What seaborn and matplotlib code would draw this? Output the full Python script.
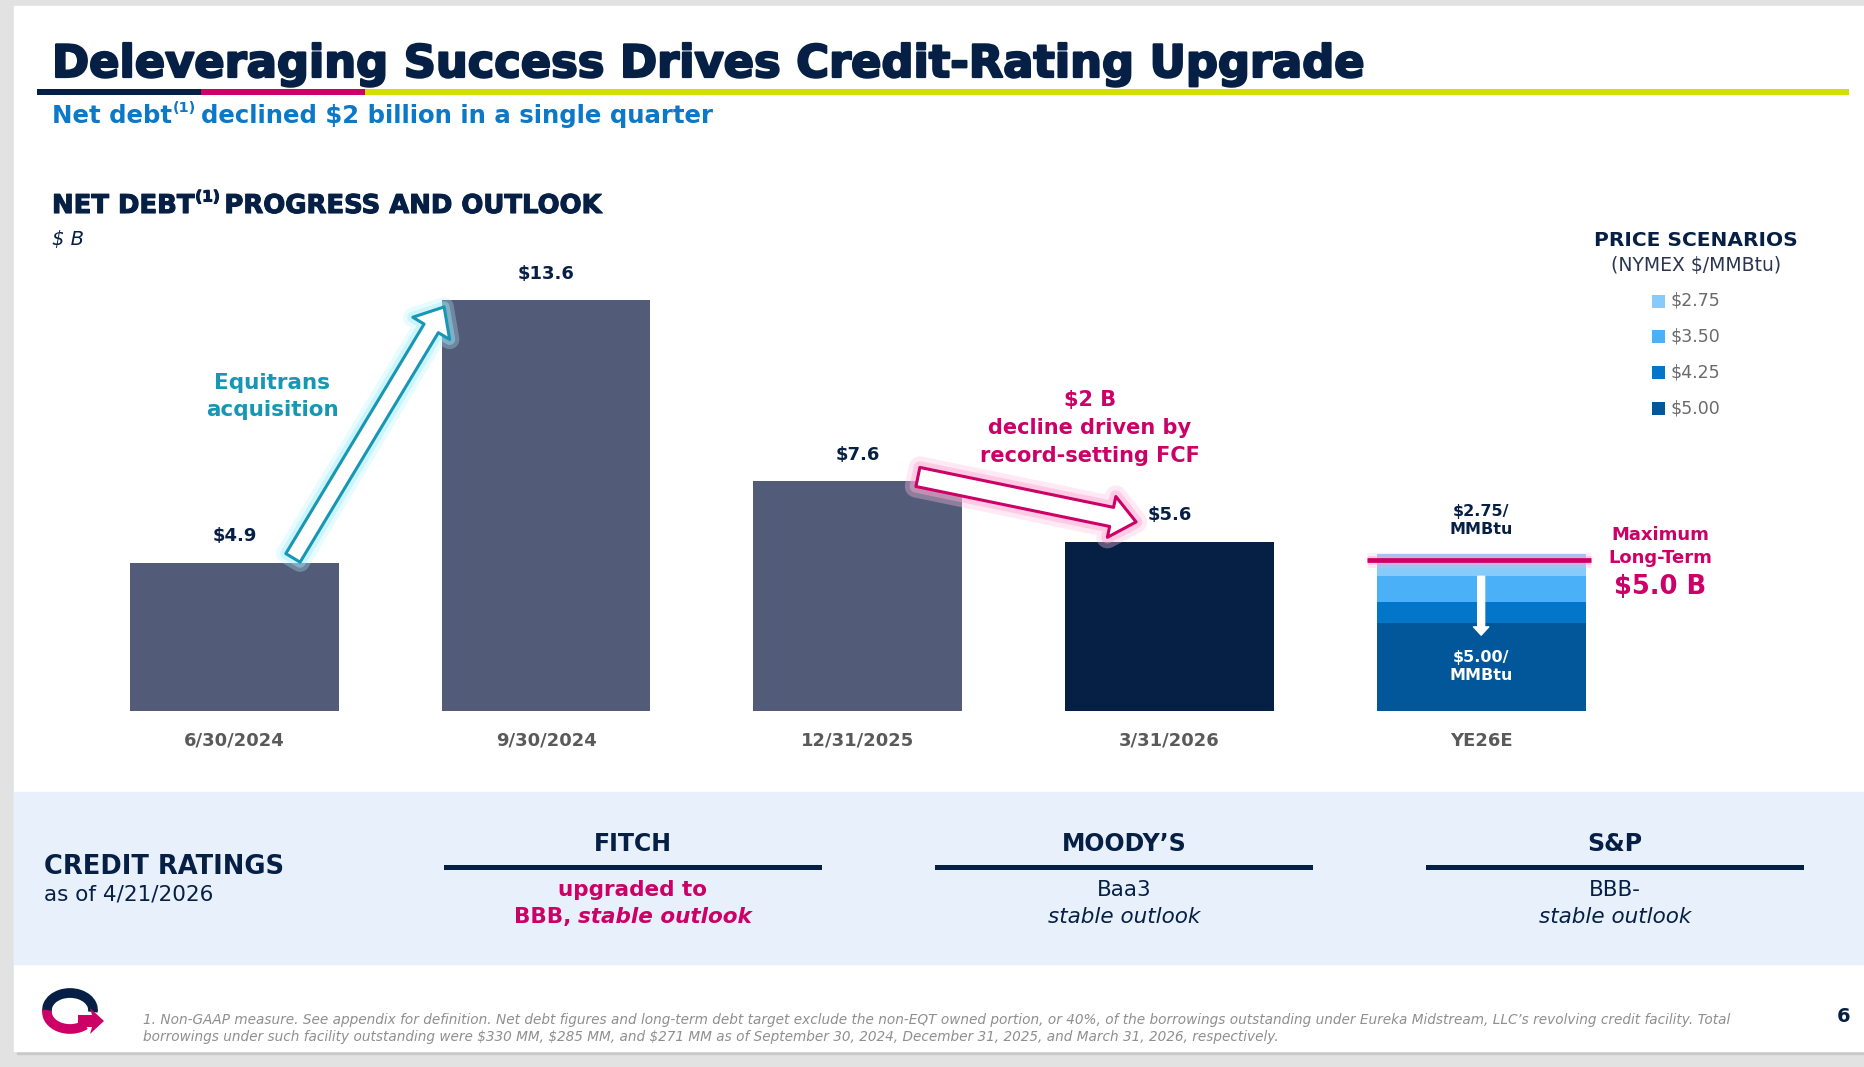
import matplotlib
matplotlib.use("Agg")
import matplotlib.pyplot as plt
import matplotlib.patheffects as pe
from matplotlib.patches import Rectangle, FancyArrowPatch, ArrowStyle, Arc, Polygon
import seaborn as sns
import pandas as pd

# ---------------- data ----------------
categories = ["6/30/2024", "9/30/2024", "12/31/2025", "3/31/2026", "YE26E"]
net_debt = [4.9, 13.6, 7.6, 5.6]
net_debt_status = ["history", "history", "history", "latest"]
value_labels = ["$4.9", "$13.6", "$7.6", "$5.6"]
scenario_labels = ["$2.75", "$3.50", "$4.25", "$5.00"]
scenario_debt = [5.2, 4.45, 3.6, 2.9]
long_term_max = 5.0
agencies = ["FITCH", "MOODY\u2019S", "S&P"]
rating_line1 = ["upgraded to", "Baa3", "BBB-"]
rating_line2 = ["stable outlook", "stable outlook", "stable outlook"]
footnote = [
    "1. Non-GAAP measure. See appendix for definition. Net debt figures and long-term debt target exclude the non-EQT owned portion, or 40%, of the borrowings outstanding under Eureka Midstream, LLC\u2019s revolving credit facility. Total",
    "borrowings under such facility outstanding were $330 MM, $285 MM, and $271 MM as of September 30, 2024, December 31, 2025, and March 31, 2026, respectively.",
]

# ---------------- style ----------------
NAVY = "#061f45"
SLATE = "#525b78"
MAGENTA = "#cc0066"
TEAL = "#1797b4"
BLUE = "#0b78c8"
YELLOW = "#d3df00"
BAND = "#e8f1fb"
GRAY = "#5a5a5a"
scenario_colors = ["#86cbf9", "#4ab0f7", "#0376c9", "#02569a"]

sns.set_theme(style="white")
plt.rcParams["font.family"] = ["DejaVu Sans"]

W, H = 1865, 1067
PX = 100 / 72.0
fig = plt.figure(figsize=(W / 100, H / 100), dpi=100)
fig.patch.set_facecolor("#e2e2e2")
R = fig.canvas.get_renderer()

bg = fig.add_axes([0, 0, 1, 1], zorder=0)
bg.set_xlim(0, W); bg.set_ylim(H, 0); bg.axis("off")
ov = fig.add_axes([0, 0, 1, 1], zorder=3)
ov.set_xlim(0, W); ov.set_ylim(H, 0); ov.axis("off"); ov.patch.set_alpha(0)

# slide
bg.add_patch(Rectangle((17, 9), W, 1045, color="#c9c9c9", zorder=0))
bg.add_patch(Rectangle((14, 6), W, 1045, color="white", zorder=1))
bg.add_patch(Rectangle((14, 792), W, 172, color=BAND, zorder=2))


def measure(ax, s, **kw):
    t = ax.text(0, 0, s, **kw)
    w = t.get_window_extent(renderer=R).width
    t.remove()
    return w


def seq(ax, x, y, pieces, ha="left", target=None):
    """pieces: (text, size_pt, dy_em, gap_em, kw) drawn side by side on a baseline."""
    def widths(k):
        return [measure(ax, s, fontsize=sz * k, **kw) for s, sz, dy, g, kw in pieces]
    k = 1.0
    ws = widths(k)
    tot = sum(ws) + sum(g * sz * PX for s, sz, dy, g, kw in pieces)
    if target:
        k = target / tot
        ws = widths(k)
        tot = sum(ws) + sum(g * sz * k * PX for s, sz, dy, g, kw in pieces)
    x0 = x - tot / 2 if ha == "center" else x
    for (s, sz, dy, g, kw), w in zip(pieces, ws):
        ax.text(x0, y - dy * sz * k * PX, s, fontsize=sz * k, ha="left", va="baseline", **kw)
        x0 += w + g * sz * k * PX
    return k


heavy = [pe.withStroke(linewidth=1.6, foreground=NAVY)]
heavy_thin = [pe.withStroke(linewidth=0.8, foreground=NAVY)]

# ---------------- header ----------------
seq(ov, 52, 77, [("Deleveraging Success Drives Credit-Rating Upgrade", 28, 0, 0,
                  dict(color=NAVY, fontweight="bold", path_effects=heavy))], target=1311)
for x0, x1, c in [(37, 201, NAVY), (201, 365, MAGENTA), (365, 1849, YELLOW)]:
    ov.add_patch(Rectangle((x0, 88.5), x1 - x0, 6.5, color=c, lw=0))
bk = dict(color=BLUE, fontweight="bold")
seq(ov, 52, 123, [("Net debt", 17, 0, 0.05, bk), ("(1)", 10, 0.75, 0.3, bk),
                  ("declined $2 billion in a single quarter", 17, 0, 0, bk)], target=665)
nk = dict(color=NAVY, fontweight="bold", path_effects=heavy_thin)
seq(ov, 52, 213, [("NET DEBT", 16, 0, 0.03, nk), ("(1)", 9.5, 0.75, 0.3, nk),
                  ("PROGRESS AND OUTLOOK", 16, 0, 0, nk)], target=550)
ov.text(52, 245, "$ B", fontsize=14, style="italic", color=NAVY, va="baseline")

# ---------------- chart ----------------
ax = fig.add_axes([78.5 / W, (H - 710.7) / H, 1558.5 / W, 483.2 / H], zorder=2)
ax.patch.set_alpha(0)
df = pd.DataFrame({"period": categories[:4], "net_debt": net_debt, "status": net_debt_status})
sns.barplot(data=df, x="period", y="net_debt", hue="status", order=categories,
            palette={"history": SLATE, "latest": NAVY}, width=0.67, dodge=False,
            saturation=1, legend=False, linewidth=0, ax=ax)
for lab, val, col in zip(scenario_labels, scenario_debt, scenario_colors):
    sns.barplot(x=[categories[4]], y=[val], order=categories, color=col,
                width=0.67, saturation=1, linewidth=0, ax=ax)
ax.set_xlim(-0.5, 4.5)
ax.set_ylim(0, 16)
ax.set_xlabel(""); ax.set_ylabel("")
ax.set_yticks([])
sns.despine(ax=ax, left=True, bottom=True)
ax.tick_params(axis="x", length=0, pad=15, labelsize=13, labelcolor=GRAY)
for t in ax.get_xticklabels():
    t.set_fontweight("bold")

for i, (v, lab) in enumerate(zip(net_debt, value_labels)):
    ax.annotate(lab, xy=(i, v), xytext=(0, 19), textcoords="offset points",
                ha="center", va="center", fontsize=13, fontweight="bold", color=NAVY)

ye = categories.index("YE26E")
ax.annotate(scenario_labels[0] + "/\nMMBtu", xy=(ye, scenario_debt[0]), xytext=(0, 24),
            textcoords="offset points", ha="center", va="center", fontsize=11.5,
            fontweight="bold", color=NAVY, linespacing=1.25)
ax.text(ye, scenario_debt[3] / 2, scenario_labels[3] + "/\nMMBtu", ha="center", va="center",
        fontsize=11.5, fontweight="bold", color="white", linespacing=1.25, zorder=6)

glow_pink = [pe.Stroke(linewidth=11, foreground="#ffb0d6", alpha=0.22),
             pe.Stroke(linewidth=6.5, foreground="#ffa0cf", alpha=0.4), pe.Normal()]
ax.plot([ye - 0.366, ye + 0.353], [long_term_max, long_term_max], color=MAGENTA, lw=3.4,
        solid_capstyle="butt", zorder=7, path_effects=glow_pink)

down = FancyArrowPatch((ye, scenario_debt[1]), (ye, 2.5),
                       arrowstyle=ArrowStyle.Simple(head_length=6, head_width=11, tail_width=5),
                       mutation_scale=1, color="white", shrinkA=0, shrinkB=0, zorder=6)
ax.add_patch(down)

teal_arrow = FancyArrowPatch((0 + 0.188, net_debt[0] + 0.16), (1 - 0.327, net_debt[1] - 0.23),
                             arrowstyle=ArrowStyle.Simple(head_length=18, head_width=31, tail_width=12),
                             mutation_scale=1, facecolor="white", edgecolor=TEAL, lw=2.2,
                             shrinkA=0, shrinkB=0, zorder=8,
                             path_effects=[pe.Stroke(linewidth=14, foreground="#b5f3ff", alpha=0.3),
                                           pe.Stroke(linewidth=8, foreground="#9eeefc", alpha=0.4),
                                           pe.Normal()])
ax.add_patch(teal_arrow)
pink_arrow = FancyArrowPatch((2 + 0.193, net_debt[2] + 0.14), (3 - 0.107, net_debt[3] + 0.65),
                             arrowstyle=ArrowStyle.Simple(head_length=18, head_width=30, tail_width=14),
                             mutation_scale=1, facecolor="white", edgecolor=MAGENTA, lw=2.2,
                             shrinkA=0, shrinkB=0, zorder=8,
                             path_effects=[pe.Stroke(linewidth=16, foreground="#ffc2e0", alpha=0.35),
                                           pe.Stroke(linewidth=9, foreground="#ffa6d2", alpha=0.45),
                                           pe.Normal()])
ax.add_patch(pink_arrow)

# annotation texts
for yy, s in [(383, "Equitrans"), (410, "acquisition")]:
    ov.text(272, yy, s, ha="center", va="center", fontsize=15.5, fontweight="bold", color=TEAL)
for yy, s in [(400, "$2 B"), (428, "decline driven by"), (456, "record-setting FCF")]:
    ov.text(1090, yy, s, ha="center", va="center", fontsize=15, fontweight="bold", color=MAGENTA)
for yy, s, fs in [(535, "Maximum", 13), (558, "Long-Term", 13), (587, "$5.0 B", 18.5)]:
    ov.text(1660, yy, s, ha="center", va="center", fontsize=fs, fontweight="bold", color=MAGENTA)

# legend
ov.text(1696, 240, "PRICE SCENARIOS", ha="center", va="center", fontsize=14.5,
        fontweight="bold", color=NAVY)
ov.text(1696, 265, "(NYMEX $/MMBtu)", ha="center", va="center", fontsize=13.5, color="#2b3550")
for k, (lab, col) in enumerate(zip(scenario_labels, scenario_colors)):
    yy = 301 + k * 35.7
    ov.add_patch(Rectangle((1652, yy - 6.5), 13, 13, color=col, lw=0))
    ov.text(1671, yy, lab, ha="left", va="center", fontsize=12.5, color="#6a6a6a")

# ---------------- credit ratings ----------------
seq(ov, 44, 874, [("CREDIT RATINGS", 19, 0, 0, dict(color=NAVY, fontweight="bold"))], target=240)
seq(ov, 44, 901, [("as of 4/21/2026", 15, 0, 0, dict(color=NAVY))], target=169)
centers = [633, 1124, 1615]
for c, ag, l1, l2 in zip(centers, agencies, rating_line1, rating_line2):
    ov.text(c, 844, ag, ha="center", va="center", fontsize=17, fontweight="bold", color=NAVY)
    ov.add_patch(Rectangle((c - 189, 864.5), 378, 5, color=NAVY, lw=0))
    if ag == "FITCH":
        ov.text(c, 890, l1, ha="center", va="center", fontsize=15.5, fontweight="bold", color=MAGENTA)
        seq(ov, c, 923, [("BBB,", 15.5, 0, 0.3, dict(color=MAGENTA, fontweight="bold")),
                         (l2, 15.5, 0, 0, dict(color=MAGENTA, fontweight="bold", style="italic"))],
            ha="center")
    else:
        ov.text(c, 890, l1, ha="center", va="center", fontsize=15.5, color=NAVY)
        ov.text(c, 917, l2, ha="center", va="center", fontsize=15.5, style="italic", color=NAVY)

# ---------------- footer ----------------
k = seq(ov, 143, 1024, [(footnote[0], 9, 0, 0, dict(color="#8f8f8f", style="italic"))], target=1580)
ov.text(143, 1041, footnote[1], fontsize=9 * k, color="#8f8f8f", style="italic", va="baseline")
ov.text(1844, 1017, "6", ha="center", va="center", fontsize=14, fontweight="bold", color=NAVY)

# logo
ov.add_patch(Arc((70, 1010), 46, 34, theta1=175, theta2=365, color=NAVY, lw=7))
ov.add_patch(Arc((70, 1012), 46, 34, theta1=40, theta2=185, color=MAGENTA, lw=7))
ov.add_patch(Polygon([[78, 1015], [92, 1015], [90, 1008], [104, 1021], [90, 1034], [92, 1027], [78, 1027]],
                     color=MAGENTA, lw=0))

fig.savefig("out.png", dpi=100)
